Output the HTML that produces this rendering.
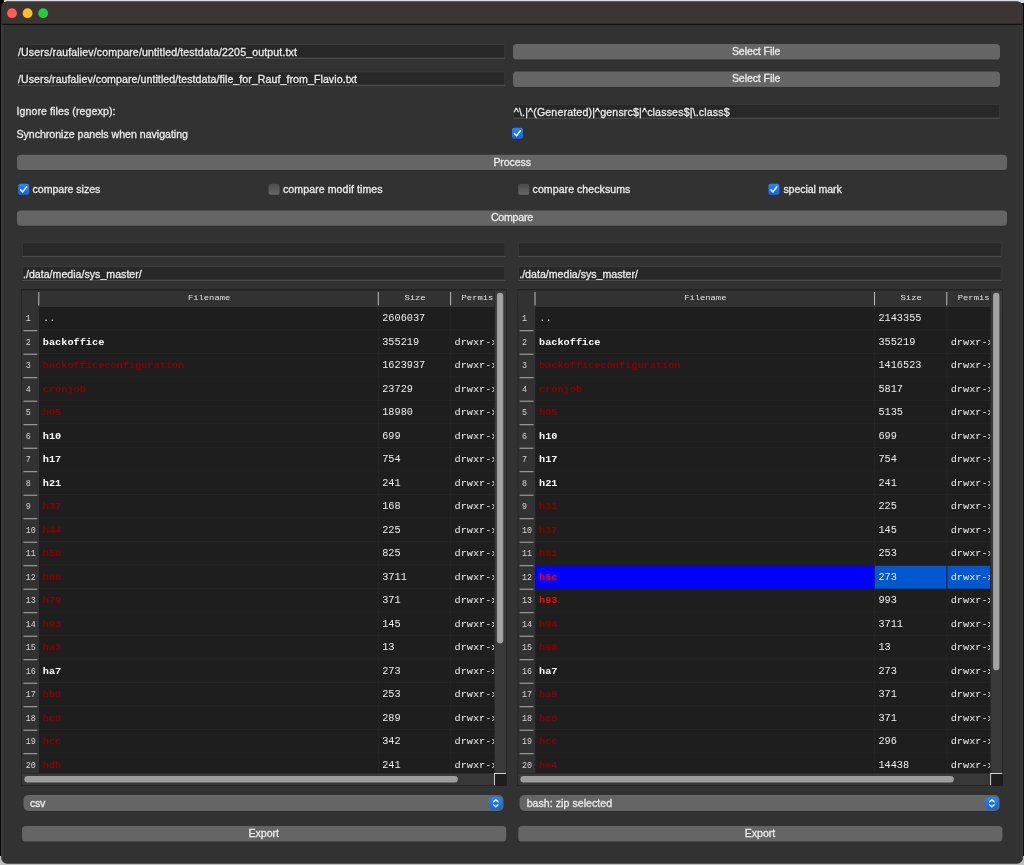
<!DOCTYPE html>
<html><head><meta charset="utf-8"><title>compare</title>
<style>
*{box-sizing:border-box;margin:0;padding:0}
html,body{width:1024px;height:865px;overflow:hidden;background:#000}
body{position:relative;font-family:"Liberation Sans",sans-serif;font-size:10.6px;color:#ebebeb}
svg.bg{position:absolute;left:0;top:0}
.tx{position:absolute;left:0;top:0;width:1024px;height:865px;overflow:hidden;will-change:transform}
.tx div{position:absolute;white-space:pre;-webkit-text-stroke:0.3px currentColor}
.tx div.m{font-family:"Liberation Mono",monospace;transform:scaleY(0.88);-webkit-text-stroke:0}
.b{font-weight:bold}
</style></head>
<body>
<svg class="bg" width="1024" height="865" viewBox="0 0 1024 865">
<defs><linearGradient id="cbg" x1="0" y1="0" x2="0" y2="1"><stop offset="0" stop-color="#2a86f2"/><stop offset="1" stop-color="#1664de"/></linearGradient><linearGradient id="cbo" x1="0" y1="0" x2="0" y2="1"><stop offset="0" stop-color="#4b4b4b"/><stop offset="1" stop-color="#676767"/></linearGradient></defs>
<rect x="0" y="0" width="1024" height="865" fill="#000"/>
<rect x="4" y="0" width="1020" height="3" fill="#dcdce4"/>
<rect x="0" y="856" width="1024" height="9" fill="#c0c0c0"/>
<rect x="0" y="3" width="1.2" height="853" fill="#050505"/>
<rect x="1022.8" y="6" width="1.2" height="850" fill="#0a0a0a"/>
<clipPath id="wc"><path d="M1.3 858.2 V7.0 a5.5 5.5 0 0 1 5.5 -5.5 H1017.3 a5.5 5.5 0 0 1 5.5 5.5 V858.2 a5.5 5.5 0 0 1 -5.5 5.5 H6.8 a5.5 5.5 0 0 1 -5.5 -5.5 Z"/></clipPath>
<g clip-path="url(#wc)">
<rect x="0" y="0" width="1024" height="865" fill="#323232"/>
<rect x="0" y="0" width="1024" height="24" fill="#3d3534"/>
<rect x="0" y="23.8" width="1024" height="1" fill="#0d0c0c"/>
<rect x="1.3" y="24" width="0.9" height="845" fill="#5a5a5a"/>
<rect x="1021.9" y="24" width="0.9" height="845" fill="#4a4a4a"/>
</g>
<circle cx="12" cy="13.2" r="4.9" fill="#fe5f57"/>
<circle cx="27.6" cy="13.2" r="4.9" fill="#febc2e"/>
<circle cx="43.2" cy="13.2" r="4.9" fill="#28c840"/>
<rect x="17.4" y="44.3" width="487.6" height="14.65" fill="#383838"/>
<rect x="18.2" y="45" width="486" height="12.55" fill="#282828"/>
<rect x="17.4" y="57.7" width="487.6" height="1.15" fill="#4b4b4b"/>
<rect x="17.4" y="71.5" width="487.6" height="14.65" fill="#383838"/>
<rect x="18.2" y="72.2" width="486" height="12.55" fill="#282828"/>
<rect x="17.4" y="84.9" width="487.6" height="1.15" fill="#4b4b4b"/>
<rect x="513" y="44.7" width="487" height="15.4" rx="3.6" fill="#2b2b2b"/>
<rect x="513" y="44.1" width="487" height="15.4" rx="3.6" fill="#656565"/>
<rect x="513" y="72.2" width="487" height="15.4" rx="3.6" fill="#2b2b2b"/>
<rect x="513" y="71.6" width="487" height="15.4" rx="3.6" fill="#656565"/>
<rect x="513" y="104.3" width="487" height="14.65" fill="#383838"/>
<rect x="513.8" y="105" width="485.4" height="12.55" fill="#282828"/>
<rect x="513" y="117.7" width="487" height="1.15" fill="#4b4b4b"/>
<rect x="512" y="127.7" width="11" height="11" rx="2.6" fill="url(#cbg)"/>
<path d="M514.45 133.6 L516.55 135.85 L520.45 130.65" fill="none" stroke="#fff" stroke-width="1.4" stroke-linecap="round" stroke-linejoin="round"/>
<rect x="17" y="155.3" width="990" height="15.4" rx="3.6" fill="#2b2b2b"/>
<rect x="17" y="154.7" width="990" height="15.4" rx="3.6" fill="#656565"/>
<rect x="18.2" y="183.8" width="11" height="11" rx="2.6" fill="url(#cbg)"/>
<path d="M20.65 189.7 L22.75 191.95 L26.65 186.75" fill="none" stroke="#fff" stroke-width="1.4" stroke-linecap="round" stroke-linejoin="round"/>
<rect x="268.6" y="183.8" width="11" height="11" rx="2.6" fill="url(#cbo)"/>
<rect x="518.2" y="183.8" width="11" height="11" rx="2.6" fill="url(#cbo)"/>
<rect x="768.4" y="183.8" width="11" height="11" rx="2.6" fill="url(#cbg)"/>
<path d="M770.85 189.7 L772.95 191.95 L776.85 186.75" fill="none" stroke="#fff" stroke-width="1.4" stroke-linecap="round" stroke-linejoin="round"/>
<rect x="17" y="211" width="990" height="15.4" rx="3.6" fill="#2b2b2b"/>
<rect x="17" y="210.4" width="990" height="15.4" rx="3.6" fill="#656565"/>
<rect x="22.1" y="241.6" width="483.2" height="15.6" fill="#383838"/>
<rect x="22.9" y="243.25" width="481.6" height="12.55" fill="#282828"/>
<rect x="22.1" y="255.95" width="483.2" height="1.15" fill="#4b4b4b"/>
<rect x="22.1" y="266" width="483.2" height="15.1" fill="#383838"/>
<rect x="22.9" y="267.15" width="481.6" height="12.55" fill="#282828"/>
<rect x="22.1" y="279.85" width="483.2" height="1.15" fill="#4b4b4b"/>
<rect x="21.4" y="289.4" width="485.2" height="496.5" fill="#1b1b1b"/>
<rect x="22" y="290.4" width="484.1" height="494.9" fill="#1e1e1e"/>
<rect x="22" y="290.5" width="484.1" height="16.5" fill="#323232"/>
<rect x="22" y="290.5" width="17" height="482.5" fill="#323232"/>
<rect x="38.3" y="292" width="1" height="13.4" fill="#b9b9b9"/>
<rect x="377.8" y="292" width="1" height="13.4" fill="#b9b9b9"/>
<rect x="450.1" y="292" width="1" height="13.4" fill="#b9b9b9"/>
<rect x="23.5" y="330.2" width="13.8" height="1" fill="#b0b0b0"/>
<rect x="39" y="329.6" width="455" height="0.7" fill="#272727"/>
<rect x="23.5" y="353.7" width="13.8" height="1" fill="#b0b0b0"/>
<rect x="39" y="353.1" width="455" height="0.7" fill="#272727"/>
<rect x="23.5" y="377.2" width="13.8" height="1" fill="#b0b0b0"/>
<rect x="39" y="376.6" width="455" height="0.7" fill="#272727"/>
<rect x="23.5" y="400.7" width="13.8" height="1" fill="#b0b0b0"/>
<rect x="39" y="400.1" width="455" height="0.7" fill="#272727"/>
<rect x="23.5" y="424.2" width="13.8" height="1" fill="#b0b0b0"/>
<rect x="39" y="423.6" width="455" height="0.7" fill="#272727"/>
<rect x="23.5" y="447.7" width="13.8" height="1" fill="#b0b0b0"/>
<rect x="39" y="447.1" width="455" height="0.7" fill="#272727"/>
<rect x="23.5" y="471.2" width="13.8" height="1" fill="#b0b0b0"/>
<rect x="39" y="470.6" width="455" height="0.7" fill="#272727"/>
<rect x="23.5" y="494.7" width="13.8" height="1" fill="#b0b0b0"/>
<rect x="39" y="494.1" width="455" height="0.7" fill="#272727"/>
<rect x="23.5" y="518.2" width="13.8" height="1" fill="#b0b0b0"/>
<rect x="39" y="517.6" width="455" height="0.7" fill="#272727"/>
<rect x="23.5" y="541.7" width="13.8" height="1" fill="#b0b0b0"/>
<rect x="39" y="541.1" width="455" height="0.7" fill="#272727"/>
<rect x="23.5" y="565.2" width="13.8" height="1" fill="#b0b0b0"/>
<rect x="39" y="564.6" width="455" height="0.7" fill="#272727"/>
<rect x="23.5" y="588.7" width="13.8" height="1" fill="#b0b0b0"/>
<rect x="39" y="588.1" width="455" height="0.7" fill="#272727"/>
<rect x="23.5" y="612.2" width="13.8" height="1" fill="#b0b0b0"/>
<rect x="39" y="611.6" width="455" height="0.7" fill="#272727"/>
<rect x="23.5" y="635.7" width="13.8" height="1" fill="#b0b0b0"/>
<rect x="39" y="635.1" width="455" height="0.7" fill="#272727"/>
<rect x="23.5" y="659.2" width="13.8" height="1" fill="#b0b0b0"/>
<rect x="39" y="658.6" width="455" height="0.7" fill="#272727"/>
<rect x="23.5" y="682.7" width="13.8" height="1" fill="#b0b0b0"/>
<rect x="39" y="682.1" width="455" height="0.7" fill="#272727"/>
<rect x="23.5" y="706.2" width="13.8" height="1" fill="#b0b0b0"/>
<rect x="39" y="705.6" width="455" height="0.7" fill="#272727"/>
<rect x="23.5" y="729.7" width="13.8" height="1" fill="#b0b0b0"/>
<rect x="39" y="729.1" width="455" height="0.7" fill="#272727"/>
<rect x="23.5" y="753.2" width="13.8" height="1" fill="#b0b0b0"/>
<rect x="39" y="752.6" width="455" height="0.7" fill="#272727"/>
<rect x="378.1" y="307" width="0.7" height="466" fill="#272727"/>
<rect x="450.4" y="307" width="0.7" height="466" fill="#272727"/>
<rect x="494" y="290.5" width="12.1" height="482.5" fill="#3a3a3a"/>
<rect x="494" y="290.5" width="0.9" height="482.5" fill="#262626"/>
<rect x="496.9" y="292.8" width="6.3" height="350.7" rx="3.15" fill="#a3a3a3"/>
<rect x="22" y="773" width="472" height="12.3" fill="#383838"/>
<rect x="22" y="773" width="472" height="0.8" fill="#2a2a2a"/>
<rect x="24.4" y="776.1" width="433.4" height="6.5" rx="3.25" fill="#9d9d9d"/>
<rect x="494" y="773" width="12.1" height="12.3" fill="#1e1e1e"/>
<rect x="494" y="773" width="12.1" height="0.9" fill="#e6e6e6"/>
<rect x="494" y="773" width="0.9" height="12.3" fill="#e6e6e6"/>
<rect x="23.5" y="795.6" width="480" height="16" rx="4.8" fill="#2b2b2b"/>
<rect x="23.5" y="795" width="480" height="16" rx="4.8" fill="#656565"/>
<rect x="489.3" y="797" width="13" height="12.4" rx="3.4" fill="url(#cbg)"/>
<path d="M493.5 801.8 L495.8 799.7 L498.1 801.8 M493.5 804.7 L495.8 806.8 L498.1 804.7" fill="none" stroke="#fff" stroke-width="1.25" stroke-linecap="round" stroke-linejoin="round"/>
<rect x="22.1" y="826.5" width="484.1" height="15.6" rx="3.6" fill="#2b2b2b"/>
<rect x="22.1" y="825.9" width="484.1" height="15.6" rx="3.6" fill="#656565"/>
<rect x="518.3" y="241.6" width="483.2" height="15.6" fill="#383838"/>
<rect x="519.1" y="243.25" width="481.6" height="12.55" fill="#282828"/>
<rect x="518.3" y="255.95" width="483.2" height="1.15" fill="#4b4b4b"/>
<rect x="518.3" y="266" width="483.2" height="15.1" fill="#383838"/>
<rect x="519.1" y="267.15" width="481.6" height="12.55" fill="#282828"/>
<rect x="518.3" y="279.85" width="483.2" height="1.15" fill="#4b4b4b"/>
<rect x="517.6" y="289.4" width="485.2" height="496.5" fill="#1b1b1b"/>
<rect x="518.2" y="290.4" width="484.1" height="494.9" fill="#1e1e1e"/>
<rect x="518.2" y="290.5" width="484.1" height="16.5" fill="#323232"/>
<rect x="518.2" y="290.5" width="17" height="482.5" fill="#323232"/>
<rect x="534.5" y="292" width="1" height="13.4" fill="#b9b9b9"/>
<rect x="874" y="292" width="1" height="13.4" fill="#b9b9b9"/>
<rect x="946.3" y="292" width="1" height="13.4" fill="#b9b9b9"/>
<rect x="535.2" y="565.8" width="339" height="22.9" fill="#0000ff"/>
<rect x="874.9" y="565.8" width="71.6" height="22.9" fill="#0058d0"/>
<rect x="947.2" y="565.8" width="43" height="22.9" fill="#0058d0"/>
<rect x="519.7" y="330.2" width="13.8" height="1" fill="#b0b0b0"/>
<rect x="535.2" y="329.6" width="455" height="0.7" fill="#272727"/>
<rect x="519.7" y="353.7" width="13.8" height="1" fill="#b0b0b0"/>
<rect x="535.2" y="353.1" width="455" height="0.7" fill="#272727"/>
<rect x="519.7" y="377.2" width="13.8" height="1" fill="#b0b0b0"/>
<rect x="535.2" y="376.6" width="455" height="0.7" fill="#272727"/>
<rect x="519.7" y="400.7" width="13.8" height="1" fill="#b0b0b0"/>
<rect x="535.2" y="400.1" width="455" height="0.7" fill="#272727"/>
<rect x="519.7" y="424.2" width="13.8" height="1" fill="#b0b0b0"/>
<rect x="535.2" y="423.6" width="455" height="0.7" fill="#272727"/>
<rect x="519.7" y="447.7" width="13.8" height="1" fill="#b0b0b0"/>
<rect x="535.2" y="447.1" width="455" height="0.7" fill="#272727"/>
<rect x="519.7" y="471.2" width="13.8" height="1" fill="#b0b0b0"/>
<rect x="535.2" y="470.6" width="455" height="0.7" fill="#272727"/>
<rect x="519.7" y="494.7" width="13.8" height="1" fill="#b0b0b0"/>
<rect x="535.2" y="494.1" width="455" height="0.7" fill="#272727"/>
<rect x="519.7" y="518.2" width="13.8" height="1" fill="#b0b0b0"/>
<rect x="535.2" y="517.6" width="455" height="0.7" fill="#272727"/>
<rect x="519.7" y="541.7" width="13.8" height="1" fill="#b0b0b0"/>
<rect x="535.2" y="541.1" width="455" height="0.7" fill="#272727"/>
<rect x="519.7" y="565.2" width="13.8" height="1" fill="#b0b0b0"/>
<rect x="519.7" y="588.7" width="13.8" height="1" fill="#b0b0b0"/>
<rect x="519.7" y="612.2" width="13.8" height="1" fill="#b0b0b0"/>
<rect x="535.2" y="611.6" width="455" height="0.7" fill="#272727"/>
<rect x="519.7" y="635.7" width="13.8" height="1" fill="#b0b0b0"/>
<rect x="535.2" y="635.1" width="455" height="0.7" fill="#272727"/>
<rect x="519.7" y="659.2" width="13.8" height="1" fill="#b0b0b0"/>
<rect x="535.2" y="658.6" width="455" height="0.7" fill="#272727"/>
<rect x="519.7" y="682.7" width="13.8" height="1" fill="#b0b0b0"/>
<rect x="535.2" y="682.1" width="455" height="0.7" fill="#272727"/>
<rect x="519.7" y="706.2" width="13.8" height="1" fill="#b0b0b0"/>
<rect x="535.2" y="705.6" width="455" height="0.7" fill="#272727"/>
<rect x="519.7" y="729.7" width="13.8" height="1" fill="#b0b0b0"/>
<rect x="535.2" y="729.1" width="455" height="0.7" fill="#272727"/>
<rect x="519.7" y="753.2" width="13.8" height="1" fill="#b0b0b0"/>
<rect x="535.2" y="752.6" width="455" height="0.7" fill="#272727"/>
<rect x="874.3" y="307" width="0.7" height="466" fill="#272727"/>
<rect x="946.6" y="307" width="0.7" height="466" fill="#272727"/>
<rect x="990.2" y="290.5" width="12.1" height="482.5" fill="#3a3a3a"/>
<rect x="990.2" y="290.5" width="0.9" height="482.5" fill="#262626"/>
<rect x="993.1" y="292.8" width="6.3" height="377.5" rx="3.15" fill="#a3a3a3"/>
<rect x="518.2" y="773" width="472" height="12.3" fill="#383838"/>
<rect x="518.2" y="773" width="472" height="0.8" fill="#2a2a2a"/>
<rect x="520.4" y="776.1" width="433.4" height="6.5" rx="3.25" fill="#9d9d9d"/>
<rect x="990.2" y="773" width="12.1" height="12.3" fill="#1e1e1e"/>
<rect x="990.2" y="773" width="12.1" height="0.9" fill="#e6e6e6"/>
<rect x="990.2" y="773" width="0.9" height="12.3" fill="#e6e6e6"/>
<rect x="519.6" y="795.6" width="480" height="16" rx="4.8" fill="#2b2b2b"/>
<rect x="519.6" y="795" width="480" height="16" rx="4.8" fill="#656565"/>
<rect x="985.4" y="797" width="13" height="12.4" rx="3.4" fill="url(#cbg)"/>
<path d="M989.6 801.8 L991.9 799.7 L994.2 801.8 M989.6 804.7 L991.9 806.8 L994.2 804.7" fill="none" stroke="#fff" stroke-width="1.25" stroke-linecap="round" stroke-linejoin="round"/>
<rect x="518.3" y="826.5" width="484.1" height="15.6" rx="3.6" fill="#2b2b2b"/>
<rect x="518.3" y="825.9" width="484.1" height="15.6" rx="3.6" fill="#656565"/>
</svg>
<div class="tx">
<div style="left:18.00px;top:46.00px;height:12px;line-height:12px;font-size:10.6px;color:#ebebeb;letter-spacing:0.131px">/Users/raufaliev/compare/untitled/testdata/2205_output.txt</div>
<div style="left:18.00px;top:73.00px;height:12px;line-height:12px;font-size:10.6px;color:#ebebeb;letter-spacing:0.072px">/Users/raufaliev/compare/untitled/testdata/file_for_Rauf_from_Flavio.txt</div>
<div style="left:731.90px;top:45.00px;height:12px;line-height:12px;font-size:10.6px;color:#ebebeb;letter-spacing:-0.106px">Select File</div>
<div style="left:731.90px;top:72.00px;height:12px;line-height:12px;font-size:10.6px;color:#ebebeb;letter-spacing:-0.106px">Select File</div>
<div style="left:16.50px;top:105.00px;height:12px;line-height:12px;font-size:10.6px;color:#ebebeb;letter-spacing:0.085px">Ignore files (regexp):</div>
<div style="left:513.80px;top:106.00px;height:12px;line-height:12px;font-size:10.6px;color:#ebebeb;letter-spacing:0.167px">^\.|^(Generated)|^gensrc$|^classes$|\.class$</div>
<div style="left:16.50px;top:128.00px;height:12px;line-height:12px;font-size:10.6px;color:#ebebeb;letter-spacing:-0.017px">Synchronize panels when navigating</div>
<div style="left:493.40px;top:156.00px;height:12px;line-height:12px;font-size:10.6px;color:#ebebeb;letter-spacing:-0.112px">Process</div>
<div style="left:32.60px;top:183.00px;height:12px;line-height:12px;font-size:10.6px;color:#ebebeb;letter-spacing:-0.050px">compare sizes</div>
<div style="left:283.00px;top:183.00px;height:12px;line-height:12px;font-size:10.6px;color:#ebebeb;letter-spacing:0.071px">compare modif times</div>
<div style="left:532.60px;top:183.00px;height:12px;line-height:12px;font-size:10.6px;color:#ebebeb;letter-spacing:0.035px">compare checksums</div>
<div style="left:783.40px;top:183.00px;height:12px;line-height:12px;font-size:10.6px;color:#ebebeb;letter-spacing:-0.097px">special mark</div>
<div style="left:490.90px;top:211.00px;height:12px;line-height:12px;font-size:10.6px;color:#ebebeb;letter-spacing:-0.230px">Compare</div>
<div style="left:23.00px;top:268.00px;height:12px;line-height:12px;font-size:10.6px;color:#ebebeb;letter-spacing:0.017px">./data/media/sys_master/</div>
<div class="m" style="left:25.70px;top:314.00px;height:10px;line-height:10px;font-size:8.4px;color:#d6d6d6;letter-spacing:0.000px;transform-origin:0 7.00px;transform:scaleY(1.0)">1</div>
<div class="m" style="left:43.10px;top:312.00px;height:12px;line-height:12px;font-size:10.25px;color:#ffffff;letter-spacing:0.000px;transform-origin:0 9.00px;transform:scaleY(0.9)">..</div>
<div class="m" style="left:382.20px;top:312.00px;height:12px;line-height:12px;font-size:10.25px;color:#ededed;letter-spacing:0.000px;transform-origin:0 9.00px;transform:scaleY(1.0)">2606037</div>
<div class="m" style="left:25.70px;top:338.00px;height:10px;line-height:10px;font-size:8.4px;color:#d6d6d6;letter-spacing:0.000px;transform-origin:0 7.00px;transform:scaleY(1.0)">2</div>
<div class="m b" style="left:42.80px;top:336.00px;height:12px;line-height:12px;font-size:10.25px;color:#ffffff;letter-spacing:0.000px;transform-origin:0 9.00px;transform:scaleY(0.9)">backoffice</div>
<div class="m" style="left:382.20px;top:336.00px;height:12px;line-height:12px;font-size:10.25px;color:#ededed;letter-spacing:0.000px;transform-origin:0 9.00px;transform:scaleY(1.0)">355219</div>
<div class="m" style="left:454.50px;top:336.00px;height:12px;line-height:12px;font-size:10.25px;color:#ededed;letter-spacing:0.000px;transform-origin:0 9.00px;transform:scaleY(0.95);width:39.50px;overflow:hidden">drwxr-xr-x</div>
<div class="m" style="left:25.70px;top:361.00px;height:10px;line-height:10px;font-size:8.4px;color:#d6d6d6;letter-spacing:0.000px;transform-origin:0 7.00px;transform:scaleY(1.0)">3</div>
<div class="m b" style="left:42.80px;top:359.00px;height:12px;line-height:12px;font-size:10.25px;color:#8b0000;letter-spacing:0.000px;transform-origin:0 9.00px;transform:scaleY(0.9)">backofficeconfiguration</div>
<div class="m" style="left:382.20px;top:359.00px;height:12px;line-height:12px;font-size:10.25px;color:#ededed;letter-spacing:0.000px;transform-origin:0 9.00px;transform:scaleY(1.0)">1623937</div>
<div class="m" style="left:454.50px;top:359.00px;height:12px;line-height:12px;font-size:10.25px;color:#ededed;letter-spacing:0.000px;transform-origin:0 9.00px;transform:scaleY(0.95);width:39.50px;overflow:hidden">drwxr-xr-x</div>
<div class="m" style="left:25.70px;top:385.00px;height:10px;line-height:10px;font-size:8.4px;color:#d6d6d6;letter-spacing:0.000px;transform-origin:0 7.00px;transform:scaleY(1.0)">4</div>
<div class="m b" style="left:42.80px;top:383.00px;height:12px;line-height:12px;font-size:10.25px;color:#8b0000;letter-spacing:0.000px;transform-origin:0 9.00px;transform:scaleY(0.9)">cronjob</div>
<div class="m" style="left:382.20px;top:383.00px;height:12px;line-height:12px;font-size:10.25px;color:#ededed;letter-spacing:0.000px;transform-origin:0 9.00px;transform:scaleY(1.0)">23729</div>
<div class="m" style="left:454.50px;top:383.00px;height:12px;line-height:12px;font-size:10.25px;color:#ededed;letter-spacing:0.000px;transform-origin:0 9.00px;transform:scaleY(0.95);width:39.50px;overflow:hidden">drwxr-xr-x</div>
<div class="m" style="left:25.70px;top:408.00px;height:10px;line-height:10px;font-size:8.4px;color:#d6d6d6;letter-spacing:0.000px;transform-origin:0 7.00px;transform:scaleY(1.0)">5</div>
<div class="m b" style="left:42.80px;top:406.00px;height:12px;line-height:12px;font-size:10.25px;color:#8b0000;letter-spacing:0.000px;transform-origin:0 9.00px;transform:scaleY(0.9)">h05</div>
<div class="m" style="left:382.20px;top:406.00px;height:12px;line-height:12px;font-size:10.25px;color:#ededed;letter-spacing:0.000px;transform-origin:0 9.00px;transform:scaleY(1.0)">18980</div>
<div class="m" style="left:454.50px;top:406.00px;height:12px;line-height:12px;font-size:10.25px;color:#ededed;letter-spacing:0.000px;transform-origin:0 9.00px;transform:scaleY(0.95);width:39.50px;overflow:hidden">drwxr-xr-x</div>
<div class="m" style="left:25.70px;top:432.00px;height:10px;line-height:10px;font-size:8.4px;color:#d6d6d6;letter-spacing:0.000px;transform-origin:0 7.00px;transform:scaleY(1.0)">6</div>
<div class="m b" style="left:42.80px;top:430.00px;height:12px;line-height:12px;font-size:10.25px;color:#ffffff;letter-spacing:0.000px;transform-origin:0 9.00px;transform:scaleY(0.9)">h10</div>
<div class="m" style="left:382.20px;top:430.00px;height:12px;line-height:12px;font-size:10.25px;color:#ededed;letter-spacing:0.000px;transform-origin:0 9.00px;transform:scaleY(1.0)">699</div>
<div class="m" style="left:454.50px;top:430.00px;height:12px;line-height:12px;font-size:10.25px;color:#ededed;letter-spacing:0.000px;transform-origin:0 9.00px;transform:scaleY(0.95);width:39.50px;overflow:hidden">drwxr-xr-x</div>
<div class="m" style="left:25.70px;top:455.00px;height:10px;line-height:10px;font-size:8.4px;color:#d6d6d6;letter-spacing:0.000px;transform-origin:0 7.00px;transform:scaleY(1.0)">7</div>
<div class="m b" style="left:42.80px;top:453.00px;height:12px;line-height:12px;font-size:10.25px;color:#ffffff;letter-spacing:0.000px;transform-origin:0 9.00px;transform:scaleY(0.9)">h17</div>
<div class="m" style="left:382.20px;top:453.00px;height:12px;line-height:12px;font-size:10.25px;color:#ededed;letter-spacing:0.000px;transform-origin:0 9.00px;transform:scaleY(1.0)">754</div>
<div class="m" style="left:454.50px;top:453.00px;height:12px;line-height:12px;font-size:10.25px;color:#ededed;letter-spacing:0.000px;transform-origin:0 9.00px;transform:scaleY(0.95);width:39.50px;overflow:hidden">drwxr-xr-x</div>
<div class="m" style="left:25.70px;top:479.00px;height:10px;line-height:10px;font-size:8.4px;color:#d6d6d6;letter-spacing:0.000px;transform-origin:0 7.00px;transform:scaleY(1.0)">8</div>
<div class="m b" style="left:42.80px;top:477.00px;height:12px;line-height:12px;font-size:10.25px;color:#ffffff;letter-spacing:0.000px;transform-origin:0 9.00px;transform:scaleY(0.9)">h21</div>
<div class="m" style="left:382.20px;top:477.00px;height:12px;line-height:12px;font-size:10.25px;color:#ededed;letter-spacing:0.000px;transform-origin:0 9.00px;transform:scaleY(1.0)">241</div>
<div class="m" style="left:454.50px;top:477.00px;height:12px;line-height:12px;font-size:10.25px;color:#ededed;letter-spacing:0.000px;transform-origin:0 9.00px;transform:scaleY(0.95);width:39.50px;overflow:hidden">drwxr-xr-x</div>
<div class="m" style="left:25.70px;top:502.00px;height:10px;line-height:10px;font-size:8.4px;color:#d6d6d6;letter-spacing:0.000px;transform-origin:0 7.00px;transform:scaleY(1.0)">9</div>
<div class="m b" style="left:42.80px;top:500.00px;height:12px;line-height:12px;font-size:10.25px;color:#8b0000;letter-spacing:0.000px;transform-origin:0 9.00px;transform:scaleY(0.9)">h37</div>
<div class="m" style="left:382.20px;top:500.00px;height:12px;line-height:12px;font-size:10.25px;color:#ededed;letter-spacing:0.000px;transform-origin:0 9.00px;transform:scaleY(1.0)">168</div>
<div class="m" style="left:454.50px;top:500.00px;height:12px;line-height:12px;font-size:10.25px;color:#ededed;letter-spacing:0.000px;transform-origin:0 9.00px;transform:scaleY(0.95);width:39.50px;overflow:hidden">drwxr-xr-x</div>
<div class="m" style="left:25.70px;top:526.00px;height:10px;line-height:10px;font-size:8.4px;color:#d6d6d6;letter-spacing:0.000px;transform-origin:0 7.00px;transform:scaleY(1.0)">10</div>
<div class="m b" style="left:42.80px;top:524.00px;height:12px;line-height:12px;font-size:10.25px;color:#8b0000;letter-spacing:0.000px;transform-origin:0 9.00px;transform:scaleY(0.9)">h44</div>
<div class="m" style="left:382.20px;top:524.00px;height:12px;line-height:12px;font-size:10.25px;color:#ededed;letter-spacing:0.000px;transform-origin:0 9.00px;transform:scaleY(1.0)">225</div>
<div class="m" style="left:454.50px;top:524.00px;height:12px;line-height:12px;font-size:10.25px;color:#ededed;letter-spacing:0.000px;transform-origin:0 9.00px;transform:scaleY(0.95);width:39.50px;overflow:hidden">drwxr-xr-x</div>
<div class="m" style="left:25.70px;top:549.00px;height:10px;line-height:10px;font-size:8.4px;color:#d6d6d6;letter-spacing:0.000px;transform-origin:0 7.00px;transform:scaleY(1.0)">11</div>
<div class="m b" style="left:42.80px;top:547.00px;height:12px;line-height:12px;font-size:10.25px;color:#8b0000;letter-spacing:0.000px;transform-origin:0 9.00px;transform:scaleY(0.9)">h50</div>
<div class="m" style="left:382.20px;top:547.00px;height:12px;line-height:12px;font-size:10.25px;color:#ededed;letter-spacing:0.000px;transform-origin:0 9.00px;transform:scaleY(1.0)">825</div>
<div class="m" style="left:454.50px;top:547.00px;height:12px;line-height:12px;font-size:10.25px;color:#ededed;letter-spacing:0.000px;transform-origin:0 9.00px;transform:scaleY(0.95);width:39.50px;overflow:hidden">drwxr-xr-x</div>
<div class="m" style="left:25.70px;top:573.00px;height:10px;line-height:10px;font-size:8.4px;color:#d6d6d6;letter-spacing:0.000px;transform-origin:0 7.00px;transform:scaleY(1.0)">12</div>
<div class="m b" style="left:42.80px;top:571.00px;height:12px;line-height:12px;font-size:10.25px;color:#8b0000;letter-spacing:0.000px;transform-origin:0 9.00px;transform:scaleY(0.9)">h66</div>
<div class="m" style="left:382.20px;top:571.00px;height:12px;line-height:12px;font-size:10.25px;color:#ededed;letter-spacing:0.000px;transform-origin:0 9.00px;transform:scaleY(1.0)">3711</div>
<div class="m" style="left:454.50px;top:571.00px;height:12px;line-height:12px;font-size:10.25px;color:#ededed;letter-spacing:0.000px;transform-origin:0 9.00px;transform:scaleY(0.95);width:39.50px;overflow:hidden">drwxr-xr-x</div>
<div class="m" style="left:25.70px;top:596.00px;height:10px;line-height:10px;font-size:8.4px;color:#d6d6d6;letter-spacing:0.000px;transform-origin:0 7.00px;transform:scaleY(1.0)">13</div>
<div class="m b" style="left:42.80px;top:594.00px;height:12px;line-height:12px;font-size:10.25px;color:#8b0000;letter-spacing:0.000px;transform-origin:0 9.00px;transform:scaleY(0.9)">h79</div>
<div class="m" style="left:382.20px;top:594.00px;height:12px;line-height:12px;font-size:10.25px;color:#ededed;letter-spacing:0.000px;transform-origin:0 9.00px;transform:scaleY(1.0)">371</div>
<div class="m" style="left:454.50px;top:594.00px;height:12px;line-height:12px;font-size:10.25px;color:#ededed;letter-spacing:0.000px;transform-origin:0 9.00px;transform:scaleY(0.95);width:39.50px;overflow:hidden">drwxr-xr-x</div>
<div class="m" style="left:25.70px;top:620.00px;height:10px;line-height:10px;font-size:8.4px;color:#d6d6d6;letter-spacing:0.000px;transform-origin:0 7.00px;transform:scaleY(1.0)">14</div>
<div class="m b" style="left:42.80px;top:618.00px;height:12px;line-height:12px;font-size:10.25px;color:#8b0000;letter-spacing:0.000px;transform-origin:0 9.00px;transform:scaleY(0.9)">h93</div>
<div class="m" style="left:382.20px;top:618.00px;height:12px;line-height:12px;font-size:10.25px;color:#ededed;letter-spacing:0.000px;transform-origin:0 9.00px;transform:scaleY(1.0)">145</div>
<div class="m" style="left:454.50px;top:618.00px;height:12px;line-height:12px;font-size:10.25px;color:#ededed;letter-spacing:0.000px;transform-origin:0 9.00px;transform:scaleY(0.95);width:39.50px;overflow:hidden">drwxr-xr-x</div>
<div class="m" style="left:25.70px;top:643.00px;height:10px;line-height:10px;font-size:8.4px;color:#d6d6d6;letter-spacing:0.000px;transform-origin:0 7.00px;transform:scaleY(1.0)">15</div>
<div class="m b" style="left:42.80px;top:641.00px;height:12px;line-height:12px;font-size:10.25px;color:#8b0000;letter-spacing:0.000px;transform-origin:0 9.00px;transform:scaleY(0.9)">ha3</div>
<div class="m" style="left:382.20px;top:641.00px;height:12px;line-height:12px;font-size:10.25px;color:#ededed;letter-spacing:0.000px;transform-origin:0 9.00px;transform:scaleY(1.0)">13</div>
<div class="m" style="left:454.50px;top:641.00px;height:12px;line-height:12px;font-size:10.25px;color:#ededed;letter-spacing:0.000px;transform-origin:0 9.00px;transform:scaleY(0.95);width:39.50px;overflow:hidden">drwxr-xr-x</div>
<div class="m" style="left:25.70px;top:667.00px;height:10px;line-height:10px;font-size:8.4px;color:#d6d6d6;letter-spacing:0.000px;transform-origin:0 7.00px;transform:scaleY(1.0)">16</div>
<div class="m b" style="left:42.80px;top:665.00px;height:12px;line-height:12px;font-size:10.25px;color:#ffffff;letter-spacing:0.000px;transform-origin:0 9.00px;transform:scaleY(0.9)">ha7</div>
<div class="m" style="left:382.20px;top:665.00px;height:12px;line-height:12px;font-size:10.25px;color:#ededed;letter-spacing:0.000px;transform-origin:0 9.00px;transform:scaleY(1.0)">273</div>
<div class="m" style="left:454.50px;top:665.00px;height:12px;line-height:12px;font-size:10.25px;color:#ededed;letter-spacing:0.000px;transform-origin:0 9.00px;transform:scaleY(0.95);width:39.50px;overflow:hidden">drwxr-xr-x</div>
<div class="m" style="left:25.70px;top:690.00px;height:10px;line-height:10px;font-size:8.4px;color:#d6d6d6;letter-spacing:0.000px;transform-origin:0 7.00px;transform:scaleY(1.0)">17</div>
<div class="m b" style="left:42.80px;top:688.00px;height:12px;line-height:12px;font-size:10.25px;color:#8b0000;letter-spacing:0.000px;transform-origin:0 9.00px;transform:scaleY(0.9)">hb0</div>
<div class="m" style="left:382.20px;top:688.00px;height:12px;line-height:12px;font-size:10.25px;color:#ededed;letter-spacing:0.000px;transform-origin:0 9.00px;transform:scaleY(1.0)">253</div>
<div class="m" style="left:454.50px;top:688.00px;height:12px;line-height:12px;font-size:10.25px;color:#ededed;letter-spacing:0.000px;transform-origin:0 9.00px;transform:scaleY(0.95);width:39.50px;overflow:hidden">drwxr-xr-x</div>
<div class="m" style="left:25.70px;top:714.00px;height:10px;line-height:10px;font-size:8.4px;color:#d6d6d6;letter-spacing:0.000px;transform-origin:0 7.00px;transform:scaleY(1.0)">18</div>
<div class="m b" style="left:42.80px;top:712.00px;height:12px;line-height:12px;font-size:10.25px;color:#8b0000;letter-spacing:0.000px;transform-origin:0 9.00px;transform:scaleY(0.9)">hc0</div>
<div class="m" style="left:382.20px;top:712.00px;height:12px;line-height:12px;font-size:10.25px;color:#ededed;letter-spacing:0.000px;transform-origin:0 9.00px;transform:scaleY(1.0)">289</div>
<div class="m" style="left:454.50px;top:712.00px;height:12px;line-height:12px;font-size:10.25px;color:#ededed;letter-spacing:0.000px;transform-origin:0 9.00px;transform:scaleY(0.95);width:39.50px;overflow:hidden">drwxr-xr-x</div>
<div class="m" style="left:25.70px;top:737.00px;height:10px;line-height:10px;font-size:8.4px;color:#d6d6d6;letter-spacing:0.000px;transform-origin:0 7.00px;transform:scaleY(1.0)">19</div>
<div class="m b" style="left:42.80px;top:735.00px;height:12px;line-height:12px;font-size:10.25px;color:#8b0000;letter-spacing:0.000px;transform-origin:0 9.00px;transform:scaleY(0.9)">hcc</div>
<div class="m" style="left:382.20px;top:735.00px;height:12px;line-height:12px;font-size:10.25px;color:#ededed;letter-spacing:0.000px;transform-origin:0 9.00px;transform:scaleY(1.0)">342</div>
<div class="m" style="left:454.50px;top:735.00px;height:12px;line-height:12px;font-size:10.25px;color:#ededed;letter-spacing:0.000px;transform-origin:0 9.00px;transform:scaleY(0.95);width:39.50px;overflow:hidden">drwxr-xr-x</div>
<div class="m" style="left:25.70px;top:761.00px;height:10px;line-height:10px;font-size:8.4px;color:#d6d6d6;letter-spacing:0.000px;transform-origin:0 7.00px;transform:scaleY(1.0)">20</div>
<div class="m b" style="left:42.80px;top:759.00px;height:12px;line-height:12px;font-size:10.25px;color:#8b0000;letter-spacing:0.000px;transform-origin:0 9.00px;transform:scaleY(0.9)">hdb</div>
<div class="m" style="left:382.20px;top:759.00px;height:12px;line-height:12px;font-size:10.25px;color:#ededed;letter-spacing:0.000px;transform-origin:0 9.00px;transform:scaleY(1.0)">241</div>
<div class="m" style="left:454.50px;top:759.00px;height:12px;line-height:12px;font-size:10.25px;color:#ededed;letter-spacing:0.000px;transform-origin:0 9.00px;transform:scaleY(0.95);width:39.50px;overflow:hidden">drwxr-xr-x</div>
<div class="m" style="left:188.00px;top:293.00px;height:10px;line-height:10px;font-size:8.8px;color:#e2e2e2;letter-spacing:0.000px;transform-origin:0 7.00px;transform:scaleY(0.9)">Filename</div>
<div class="m" style="left:404.40px;top:293.00px;height:10px;line-height:10px;font-size:8.8px;color:#e2e2e2;letter-spacing:0.000px;transform-origin:0 7.00px;transform:scaleY(0.9)">Size</div>
<div class="m" style="left:461.60px;top:293.00px;height:10px;line-height:10px;font-size:8.8px;color:#e2e2e2;letter-spacing:0.000px;transform-origin:0 7.00px;transform:scaleY(0.9);width:32.40px;overflow:hidden">Permissions</div>
<div style="left:30.10px;top:797.00px;height:12px;line-height:12px;font-size:10.6px;color:#ebebeb;letter-spacing:-0.297px">csv</div>
<div style="left:248.50px;top:827.00px;height:12px;line-height:12px;font-size:10.6px;color:#ebebeb;letter-spacing:-0.015px">Export</div>
<div style="left:519.20px;top:268.00px;height:12px;line-height:12px;font-size:10.6px;color:#ebebeb;letter-spacing:0.017px">./data/media/sys_master/</div>
<div class="m" style="left:521.90px;top:314.00px;height:10px;line-height:10px;font-size:8.4px;color:#d6d6d6;letter-spacing:0.000px;transform-origin:0 7.00px;transform:scaleY(1.0)">1</div>
<div class="m" style="left:539.30px;top:312.00px;height:12px;line-height:12px;font-size:10.25px;color:#ffffff;letter-spacing:0.000px;transform-origin:0 9.00px;transform:scaleY(0.9)">..</div>
<div class="m" style="left:878.40px;top:312.00px;height:12px;line-height:12px;font-size:10.25px;color:#ededed;letter-spacing:0.000px;transform-origin:0 9.00px;transform:scaleY(1.0)">2143355</div>
<div class="m" style="left:521.90px;top:338.00px;height:10px;line-height:10px;font-size:8.4px;color:#d6d6d6;letter-spacing:0.000px;transform-origin:0 7.00px;transform:scaleY(1.0)">2</div>
<div class="m b" style="left:539.00px;top:336.00px;height:12px;line-height:12px;font-size:10.25px;color:#ffffff;letter-spacing:0.000px;transform-origin:0 9.00px;transform:scaleY(0.9)">backoffice</div>
<div class="m" style="left:878.40px;top:336.00px;height:12px;line-height:12px;font-size:10.25px;color:#ededed;letter-spacing:0.000px;transform-origin:0 9.00px;transform:scaleY(1.0)">355219</div>
<div class="m" style="left:950.70px;top:336.00px;height:12px;line-height:12px;font-size:10.25px;color:#ededed;letter-spacing:0.000px;transform-origin:0 9.00px;transform:scaleY(0.95);width:39.50px;overflow:hidden">drwxr-xr-x</div>
<div class="m" style="left:521.90px;top:361.00px;height:10px;line-height:10px;font-size:8.4px;color:#d6d6d6;letter-spacing:0.000px;transform-origin:0 7.00px;transform:scaleY(1.0)">3</div>
<div class="m b" style="left:539.00px;top:359.00px;height:12px;line-height:12px;font-size:10.25px;color:#8b0000;letter-spacing:0.000px;transform-origin:0 9.00px;transform:scaleY(0.9)">backofficeconfiguration</div>
<div class="m" style="left:878.40px;top:359.00px;height:12px;line-height:12px;font-size:10.25px;color:#ededed;letter-spacing:0.000px;transform-origin:0 9.00px;transform:scaleY(1.0)">1416523</div>
<div class="m" style="left:950.70px;top:359.00px;height:12px;line-height:12px;font-size:10.25px;color:#ededed;letter-spacing:0.000px;transform-origin:0 9.00px;transform:scaleY(0.95);width:39.50px;overflow:hidden">drwxr-xr-x</div>
<div class="m" style="left:521.90px;top:385.00px;height:10px;line-height:10px;font-size:8.4px;color:#d6d6d6;letter-spacing:0.000px;transform-origin:0 7.00px;transform:scaleY(1.0)">4</div>
<div class="m b" style="left:539.00px;top:383.00px;height:12px;line-height:12px;font-size:10.25px;color:#8b0000;letter-spacing:0.000px;transform-origin:0 9.00px;transform:scaleY(0.9)">cronjob</div>
<div class="m" style="left:878.40px;top:383.00px;height:12px;line-height:12px;font-size:10.25px;color:#ededed;letter-spacing:0.000px;transform-origin:0 9.00px;transform:scaleY(1.0)">5817</div>
<div class="m" style="left:950.70px;top:383.00px;height:12px;line-height:12px;font-size:10.25px;color:#ededed;letter-spacing:0.000px;transform-origin:0 9.00px;transform:scaleY(0.95);width:39.50px;overflow:hidden">drwxr-xr-x</div>
<div class="m" style="left:521.90px;top:408.00px;height:10px;line-height:10px;font-size:8.4px;color:#d6d6d6;letter-spacing:0.000px;transform-origin:0 7.00px;transform:scaleY(1.0)">5</div>
<div class="m b" style="left:539.00px;top:406.00px;height:12px;line-height:12px;font-size:10.25px;color:#8b0000;letter-spacing:0.000px;transform-origin:0 9.00px;transform:scaleY(0.9)">h05</div>
<div class="m" style="left:878.40px;top:406.00px;height:12px;line-height:12px;font-size:10.25px;color:#ededed;letter-spacing:0.000px;transform-origin:0 9.00px;transform:scaleY(1.0)">5135</div>
<div class="m" style="left:950.70px;top:406.00px;height:12px;line-height:12px;font-size:10.25px;color:#ededed;letter-spacing:0.000px;transform-origin:0 9.00px;transform:scaleY(0.95);width:39.50px;overflow:hidden">drwxr-xr-x</div>
<div class="m" style="left:521.90px;top:432.00px;height:10px;line-height:10px;font-size:8.4px;color:#d6d6d6;letter-spacing:0.000px;transform-origin:0 7.00px;transform:scaleY(1.0)">6</div>
<div class="m b" style="left:539.00px;top:430.00px;height:12px;line-height:12px;font-size:10.25px;color:#ffffff;letter-spacing:0.000px;transform-origin:0 9.00px;transform:scaleY(0.9)">h10</div>
<div class="m" style="left:878.40px;top:430.00px;height:12px;line-height:12px;font-size:10.25px;color:#ededed;letter-spacing:0.000px;transform-origin:0 9.00px;transform:scaleY(1.0)">699</div>
<div class="m" style="left:950.70px;top:430.00px;height:12px;line-height:12px;font-size:10.25px;color:#ededed;letter-spacing:0.000px;transform-origin:0 9.00px;transform:scaleY(0.95);width:39.50px;overflow:hidden">drwxr-xr-x</div>
<div class="m" style="left:521.90px;top:455.00px;height:10px;line-height:10px;font-size:8.4px;color:#d6d6d6;letter-spacing:0.000px;transform-origin:0 7.00px;transform:scaleY(1.0)">7</div>
<div class="m b" style="left:539.00px;top:453.00px;height:12px;line-height:12px;font-size:10.25px;color:#ffffff;letter-spacing:0.000px;transform-origin:0 9.00px;transform:scaleY(0.9)">h17</div>
<div class="m" style="left:878.40px;top:453.00px;height:12px;line-height:12px;font-size:10.25px;color:#ededed;letter-spacing:0.000px;transform-origin:0 9.00px;transform:scaleY(1.0)">754</div>
<div class="m" style="left:950.70px;top:453.00px;height:12px;line-height:12px;font-size:10.25px;color:#ededed;letter-spacing:0.000px;transform-origin:0 9.00px;transform:scaleY(0.95);width:39.50px;overflow:hidden">drwxr-xr-x</div>
<div class="m" style="left:521.90px;top:479.00px;height:10px;line-height:10px;font-size:8.4px;color:#d6d6d6;letter-spacing:0.000px;transform-origin:0 7.00px;transform:scaleY(1.0)">8</div>
<div class="m b" style="left:539.00px;top:477.00px;height:12px;line-height:12px;font-size:10.25px;color:#ffffff;letter-spacing:0.000px;transform-origin:0 9.00px;transform:scaleY(0.9)">h21</div>
<div class="m" style="left:878.40px;top:477.00px;height:12px;line-height:12px;font-size:10.25px;color:#ededed;letter-spacing:0.000px;transform-origin:0 9.00px;transform:scaleY(1.0)">241</div>
<div class="m" style="left:950.70px;top:477.00px;height:12px;line-height:12px;font-size:10.25px;color:#ededed;letter-spacing:0.000px;transform-origin:0 9.00px;transform:scaleY(0.95);width:39.50px;overflow:hidden">drwxr-xr-x</div>
<div class="m" style="left:521.90px;top:502.00px;height:10px;line-height:10px;font-size:8.4px;color:#d6d6d6;letter-spacing:0.000px;transform-origin:0 7.00px;transform:scaleY(1.0)">9</div>
<div class="m b" style="left:539.00px;top:500.00px;height:12px;line-height:12px;font-size:10.25px;color:#8b0000;letter-spacing:0.000px;transform-origin:0 9.00px;transform:scaleY(0.9)">h31</div>
<div class="m" style="left:878.40px;top:500.00px;height:12px;line-height:12px;font-size:10.25px;color:#ededed;letter-spacing:0.000px;transform-origin:0 9.00px;transform:scaleY(1.0)">225</div>
<div class="m" style="left:950.70px;top:500.00px;height:12px;line-height:12px;font-size:10.25px;color:#ededed;letter-spacing:0.000px;transform-origin:0 9.00px;transform:scaleY(0.95);width:39.50px;overflow:hidden">drwxr-xr-x</div>
<div class="m" style="left:521.90px;top:526.00px;height:10px;line-height:10px;font-size:8.4px;color:#d6d6d6;letter-spacing:0.000px;transform-origin:0 7.00px;transform:scaleY(1.0)">10</div>
<div class="m b" style="left:539.00px;top:524.00px;height:12px;line-height:12px;font-size:10.25px;color:#8b0000;letter-spacing:0.000px;transform-origin:0 9.00px;transform:scaleY(0.9)">h37</div>
<div class="m" style="left:878.40px;top:524.00px;height:12px;line-height:12px;font-size:10.25px;color:#ededed;letter-spacing:0.000px;transform-origin:0 9.00px;transform:scaleY(1.0)">145</div>
<div class="m" style="left:950.70px;top:524.00px;height:12px;line-height:12px;font-size:10.25px;color:#ededed;letter-spacing:0.000px;transform-origin:0 9.00px;transform:scaleY(0.95);width:39.50px;overflow:hidden">drwxr-xr-x</div>
<div class="m" style="left:521.90px;top:549.00px;height:10px;line-height:10px;font-size:8.4px;color:#d6d6d6;letter-spacing:0.000px;transform-origin:0 7.00px;transform:scaleY(1.0)">11</div>
<div class="m b" style="left:539.00px;top:547.00px;height:12px;line-height:12px;font-size:10.25px;color:#8b0000;letter-spacing:0.000px;transform-origin:0 9.00px;transform:scaleY(0.9)">h61</div>
<div class="m" style="left:878.40px;top:547.00px;height:12px;line-height:12px;font-size:10.25px;color:#ededed;letter-spacing:0.000px;transform-origin:0 9.00px;transform:scaleY(1.0)">253</div>
<div class="m" style="left:950.70px;top:547.00px;height:12px;line-height:12px;font-size:10.25px;color:#ededed;letter-spacing:0.000px;transform-origin:0 9.00px;transform:scaleY(0.95);width:39.50px;overflow:hidden">drwxr-xr-x</div>
<div class="m" style="left:521.90px;top:573.00px;height:10px;line-height:10px;font-size:8.4px;color:#d6d6d6;letter-spacing:0.000px;transform-origin:0 7.00px;transform:scaleY(1.0)">12</div>
<div class="m b" style="left:539.00px;top:571.00px;height:12px;line-height:12px;font-size:10.25px;color:#ff0000;letter-spacing:0.000px;transform-origin:0 9.00px;transform:scaleY(0.9)">h6c</div>
<div class="m" style="left:878.40px;top:571.00px;height:12px;line-height:12px;font-size:10.25px;color:#ededed;letter-spacing:0.000px;transform-origin:0 9.00px;transform:scaleY(1.0)">273</div>
<div class="m" style="left:950.70px;top:571.00px;height:12px;line-height:12px;font-size:10.25px;color:#ededed;letter-spacing:0.000px;transform-origin:0 9.00px;transform:scaleY(0.95);width:39.50px;overflow:hidden">drwxr-xr-x</div>
<div class="m" style="left:521.90px;top:596.00px;height:10px;line-height:10px;font-size:8.4px;color:#d6d6d6;letter-spacing:0.000px;transform-origin:0 7.00px;transform:scaleY(1.0)">13</div>
<div class="m b" style="left:539.00px;top:594.00px;height:12px;line-height:12px;font-size:10.25px;color:#ff0000;letter-spacing:0.000px;transform-origin:0 9.00px;transform:scaleY(0.9)">h93</div>
<div class="m" style="left:878.40px;top:594.00px;height:12px;line-height:12px;font-size:10.25px;color:#ededed;letter-spacing:0.000px;transform-origin:0 9.00px;transform:scaleY(1.0)">993</div>
<div class="m" style="left:950.70px;top:594.00px;height:12px;line-height:12px;font-size:10.25px;color:#ededed;letter-spacing:0.000px;transform-origin:0 9.00px;transform:scaleY(0.95);width:39.50px;overflow:hidden">drwxr-xr-x</div>
<div class="m" style="left:521.90px;top:620.00px;height:10px;line-height:10px;font-size:8.4px;color:#d6d6d6;letter-spacing:0.000px;transform-origin:0 7.00px;transform:scaleY(1.0)">14</div>
<div class="m b" style="left:539.00px;top:618.00px;height:12px;line-height:12px;font-size:10.25px;color:#8b0000;letter-spacing:0.000px;transform-origin:0 9.00px;transform:scaleY(0.9)">h94</div>
<div class="m" style="left:878.40px;top:618.00px;height:12px;line-height:12px;font-size:10.25px;color:#ededed;letter-spacing:0.000px;transform-origin:0 9.00px;transform:scaleY(1.0)">3711</div>
<div class="m" style="left:950.70px;top:618.00px;height:12px;line-height:12px;font-size:10.25px;color:#ededed;letter-spacing:0.000px;transform-origin:0 9.00px;transform:scaleY(0.95);width:39.50px;overflow:hidden">drwxr-xr-x</div>
<div class="m" style="left:521.90px;top:643.00px;height:10px;line-height:10px;font-size:8.4px;color:#d6d6d6;letter-spacing:0.000px;transform-origin:0 7.00px;transform:scaleY(1.0)">15</div>
<div class="m b" style="left:539.00px;top:641.00px;height:12px;line-height:12px;font-size:10.25px;color:#8b0000;letter-spacing:0.000px;transform-origin:0 9.00px;transform:scaleY(0.9)">h98</div>
<div class="m" style="left:878.40px;top:641.00px;height:12px;line-height:12px;font-size:10.25px;color:#ededed;letter-spacing:0.000px;transform-origin:0 9.00px;transform:scaleY(1.0)">13</div>
<div class="m" style="left:950.70px;top:641.00px;height:12px;line-height:12px;font-size:10.25px;color:#ededed;letter-spacing:0.000px;transform-origin:0 9.00px;transform:scaleY(0.95);width:39.50px;overflow:hidden">drwxr-xr-x</div>
<div class="m" style="left:521.90px;top:667.00px;height:10px;line-height:10px;font-size:8.4px;color:#d6d6d6;letter-spacing:0.000px;transform-origin:0 7.00px;transform:scaleY(1.0)">16</div>
<div class="m b" style="left:539.00px;top:665.00px;height:12px;line-height:12px;font-size:10.25px;color:#ffffff;letter-spacing:0.000px;transform-origin:0 9.00px;transform:scaleY(0.9)">ha7</div>
<div class="m" style="left:878.40px;top:665.00px;height:12px;line-height:12px;font-size:10.25px;color:#ededed;letter-spacing:0.000px;transform-origin:0 9.00px;transform:scaleY(1.0)">273</div>
<div class="m" style="left:950.70px;top:665.00px;height:12px;line-height:12px;font-size:10.25px;color:#ededed;letter-spacing:0.000px;transform-origin:0 9.00px;transform:scaleY(0.95);width:39.50px;overflow:hidden">drwxr-xr-x</div>
<div class="m" style="left:521.90px;top:690.00px;height:10px;line-height:10px;font-size:8.4px;color:#d6d6d6;letter-spacing:0.000px;transform-origin:0 7.00px;transform:scaleY(1.0)">17</div>
<div class="m b" style="left:539.00px;top:688.00px;height:12px;line-height:12px;font-size:10.25px;color:#8b0000;letter-spacing:0.000px;transform-origin:0 9.00px;transform:scaleY(0.9)">ha9</div>
<div class="m" style="left:878.40px;top:688.00px;height:12px;line-height:12px;font-size:10.25px;color:#ededed;letter-spacing:0.000px;transform-origin:0 9.00px;transform:scaleY(1.0)">371</div>
<div class="m" style="left:950.70px;top:688.00px;height:12px;line-height:12px;font-size:10.25px;color:#ededed;letter-spacing:0.000px;transform-origin:0 9.00px;transform:scaleY(0.95);width:39.50px;overflow:hidden">drwxr-xr-x</div>
<div class="m" style="left:521.90px;top:714.00px;height:10px;line-height:10px;font-size:8.4px;color:#d6d6d6;letter-spacing:0.000px;transform-origin:0 7.00px;transform:scaleY(1.0)">18</div>
<div class="m b" style="left:539.00px;top:712.00px;height:12px;line-height:12px;font-size:10.25px;color:#8b0000;letter-spacing:0.000px;transform-origin:0 9.00px;transform:scaleY(0.9)">hc0</div>
<div class="m" style="left:878.40px;top:712.00px;height:12px;line-height:12px;font-size:10.25px;color:#ededed;letter-spacing:0.000px;transform-origin:0 9.00px;transform:scaleY(1.0)">371</div>
<div class="m" style="left:950.70px;top:712.00px;height:12px;line-height:12px;font-size:10.25px;color:#ededed;letter-spacing:0.000px;transform-origin:0 9.00px;transform:scaleY(0.95);width:39.50px;overflow:hidden">drwxr-xr-x</div>
<div class="m" style="left:521.90px;top:737.00px;height:10px;line-height:10px;font-size:8.4px;color:#d6d6d6;letter-spacing:0.000px;transform-origin:0 7.00px;transform:scaleY(1.0)">19</div>
<div class="m b" style="left:539.00px;top:735.00px;height:12px;line-height:12px;font-size:10.25px;color:#8b0000;letter-spacing:0.000px;transform-origin:0 9.00px;transform:scaleY(0.9)">hcc</div>
<div class="m" style="left:878.40px;top:735.00px;height:12px;line-height:12px;font-size:10.25px;color:#ededed;letter-spacing:0.000px;transform-origin:0 9.00px;transform:scaleY(1.0)">296</div>
<div class="m" style="left:950.70px;top:735.00px;height:12px;line-height:12px;font-size:10.25px;color:#ededed;letter-spacing:0.000px;transform-origin:0 9.00px;transform:scaleY(0.95);width:39.50px;overflow:hidden">drwxr-xr-x</div>
<div class="m" style="left:521.90px;top:761.00px;height:10px;line-height:10px;font-size:8.4px;color:#d6d6d6;letter-spacing:0.000px;transform-origin:0 7.00px;transform:scaleY(1.0)">20</div>
<div class="m b" style="left:539.00px;top:759.00px;height:12px;line-height:12px;font-size:10.25px;color:#8b0000;letter-spacing:0.000px;transform-origin:0 9.00px;transform:scaleY(0.9)">he4</div>
<div class="m" style="left:878.40px;top:759.00px;height:12px;line-height:12px;font-size:10.25px;color:#ededed;letter-spacing:0.000px;transform-origin:0 9.00px;transform:scaleY(1.0)">14438</div>
<div class="m" style="left:950.70px;top:759.00px;height:12px;line-height:12px;font-size:10.25px;color:#ededed;letter-spacing:0.000px;transform-origin:0 9.00px;transform:scaleY(0.95);width:39.50px;overflow:hidden">drwxr-xr-x</div>
<div class="m" style="left:684.20px;top:293.00px;height:10px;line-height:10px;font-size:8.8px;color:#e2e2e2;letter-spacing:0.000px;transform-origin:0 7.00px;transform:scaleY(0.9)">Filename</div>
<div class="m" style="left:900.60px;top:293.00px;height:10px;line-height:10px;font-size:8.8px;color:#e2e2e2;letter-spacing:0.000px;transform-origin:0 7.00px;transform:scaleY(0.9)">Size</div>
<div class="m" style="left:957.80px;top:293.00px;height:10px;line-height:10px;font-size:8.8px;color:#e2e2e2;letter-spacing:0.000px;transform-origin:0 7.00px;transform:scaleY(0.9);width:32.40px;overflow:hidden">Permissions</div>
<div style="left:526.70px;top:797.00px;height:12px;line-height:12px;font-size:10.6px;color:#ebebeb;letter-spacing:0.035px">bash: zip selected</div>
<div style="left:744.70px;top:827.00px;height:12px;line-height:12px;font-size:10.6px;color:#ebebeb;letter-spacing:-0.015px">Export</div>
</div>
</body></html>
